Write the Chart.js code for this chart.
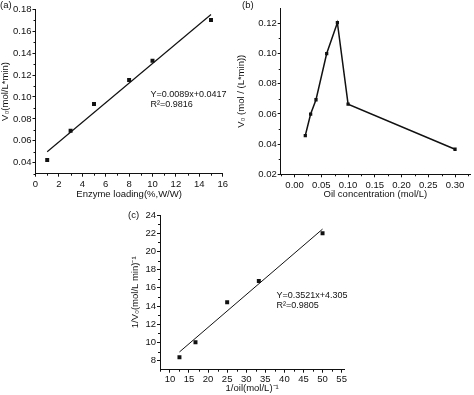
<!DOCTYPE html>
<html>
<head>
<meta charset="utf-8">
<script src="https://cdn.jsdelivr.net/npm/chart.js@4.4.1/dist/chart.umd.min.js"></script>
<style>
  html, body { margin: 0; padding: 0; background: #fff; }
  #wrap { position: relative; width: 474px; height: 395px; overflow: hidden; }
  #wrap canvas { position: absolute; left: 0; top: 0; }
</style>
</head>
<body>
<div id="wrap">
  <canvas id="chart-a" width="474" height="395"></canvas>
  <canvas id="chart-b" width="474" height="395"></canvas>
  <canvas id="chart-c" width="474" height="395"></canvas>
</div>
<script>
// (a) rate vs enzyme loading
const enzymeLoading = [1, 3, 5, 8, 10, 15];
const rateA = [0.0425, 0.0692, 0.0935, 0.1155, 0.1331, 0.1702];
const fitAX = [1, 15];
const fitAY = [0.050, 0.1752];
const ticksAX = [0, 2, 4, 6, 8, 10, 12, 14, 16];
const ticksAY = [0.04, 0.06, 0.08, 0.10, 0.12, 0.14, 0.16, 0.18];

// (b) rate vs oil concentration
const oilConc = [0.02, 0.03, 0.04, 0.06, 0.08, 0.10, 0.30];
const rateB = [0.0457, 0.0599, 0.0694, 0.100, 0.1205, 0.0665, 0.0366];
const ticksBX = [0.00, 0.05, 0.10, 0.15, 0.20, 0.25, 0.30];
const ticksBY = [0.02, 0.04, 0.06, 0.08, 0.10, 0.12];

// (c) Lineweaver-Burk style plot
const invOil = [12.5, 16.7, 25, 33.3, 50];
const invRate = [8.37, 10.02, 14.41, 16.75, 21.99];
const fitCX = [12.5, 50];
const fitCY = [8.95, 22.45];
const ticksCX = [10, 15, 20, 25, 30, 35, 40, 45, 50, 55];
const ticksCY = [8, 10, 12, 14, 16, 18, 20, 22, 24];

const FONT = '"Liberation Sans", Arial, sans-serif';
const INK = '#111';

function pts(xs, ys) {
    return xs.map((x, i) => ({ x: x, y: ys[i] }));
}

// axis with fixed box size so the plot areas land where the figure has them
function axis(opts) {
    return {
        type: 'linear',
        min: opts.min,
        max: opts.max,
        offset: false,
        afterBuildTicks: s => { s.ticks = opts.ticks.map(v => ({ value: v })); },
        afterFit: s => {
            if (opts.width !== undefined) s.width = opts.width;
            if (opts.height !== undefined) s.height = opts.height;
        },
        grid: { drawOnChartArea: false, drawTicks: true, tickLength: 3, color: INK, lineWidth: 1 },
        border: { display: true, color: INK, width: 1 },
        ticks: {
            autoSkip: false,
            maxRotation: 0,
            padding: opts.pad,
            color: INK,
            font: { family: FONT, size: 9.5 },
            callback: v => opts.dec !== undefined ? Number(v).toFixed(opts.dec) : String(v)
        },
        title: {
            display: true,
            text: opts.title,
            color: INK,
            padding: 0,
            font: { family: FONT, size: 9.5 }
        }
    };
}

// minor ticks halfway between the major ones, plus the free text of each panel
const extrasPlugin = {
    id: 'extras',
    afterDraw(chart, args, o) {
        const ctx = chart.ctx;
        ctx.save();
        ctx.strokeStyle = INK;
        ctx.lineWidth = 1;
        ['x', 'y'].forEach(id => {
            const s = chart.scales[id];
            const vals = s.ticks.map(t => t.value);
            const step = vals[1] - vals[0];
            const minors = vals.map(v => v + step / 2).concat([vals[0] - step / 2]);
            minors.forEach(m => {
                if (m <= s.min || m >= s.max) return;
                const p = Math.round(s.getPixelForValue(m)) + 0.5;
                ctx.beginPath();
                if (id === 'x') {
                    ctx.moveTo(p, s.top);
                    ctx.lineTo(p, s.top + 2);
                } else {
                    ctx.moveTo(s.right, p);
                    ctx.lineTo(s.right - 2, p);
                }
                ctx.stroke();
            });
        });
        ctx.fillStyle = INK;
        ctx.textBaseline = 'middle';
        ctx.textAlign = 'left';
        (o.texts || []).forEach(t => {
            ctx.font = t.size + 'px ' + FONT;
            ctx.fillText(t.text, t.x, t.y);
        });
        ctx.restore();
    }
};

function baseOptions(padding, scales, texts) {
    return {
        responsive: false,
        animation: false,
        layout: { padding: padding },
        plugins: {
            legend: { display: false },
            tooltip: { enabled: false },
            extras: { texts: texts }
        },
        scales: scales
    };
}

function createChartA() {
    new Chart(document.getElementById('chart-a'), {
        type: 'scatter',
        data: {
            datasets: [{
                data: pts(enzymeLoading, rateA),
                pointStyle: 'rect',
                pointRadius: 2.8,
                backgroundColor: INK,
                borderWidth: 0,
                showLine: false
            }, {
                data: pts(fitAX, fitAY),
                showLine: true,
                pointRadius: 0,
                borderColor: INK,
                borderWidth: 1.2
            }]
        },
        options: baseOptions(
            { left: 0, top: 9.3, right: 251.3, bottom: 195 },
            {
                x: axis({ min: 0, max: 16, ticks: ticksAX, height: 26.3, pad: 2, title: 'Enzyme loading(%,W/W)' }),
                y: axis({ min: 0.03, max: 0.18, ticks: ticksAY, width: 35.5, pad: 1, dec: 2, title: 'V\u2080(mol/L*min)' })
            },
            [
                { text: '(a)', x: 0, y: 5, size: 9.5 },
                { text: 'Y=0.0089x+0.0417', x: 150.5, y: 95, size: 9 },
                { text: 'R\u00b2=0.9816', x: 150.5, y: 104.5, size: 9 }
            ]
        ),
        plugins: [extrasPlugin]
    });
}

function createChartB() {
    new Chart(document.getElementById('chart-b'), {
        type: 'scatter',
        data: {
            datasets: [{
                data: pts(oilConc, rateB),
                showLine: true,
                pointStyle: 'rect',
                pointRadius: 2.3,
                backgroundColor: INK,
                borderColor: INK,
                borderWidth: 1.5,
                pointBorderWidth: 0
            }]
        },
        options: baseOptions(
            { left: 236, top: 8.3, right: 0, bottom: 194.7 },
            {
                x: axis({ min: -0.026, max: 0.328, ticks: ticksBX, height: 26, pad: 2, dec: 2, title: 'Oil concentration (mol/L)' }),
                y: axis({ min: 0.02, max: 0.13, ticks: ticksBY, width: 44.7, pad: 1, dec: 2, title: 'V\u2080 (mol / (L*min))' })
            },
            [
                { text: '(b)', x: 242, y: 5, size: 9.5 }
            ]
        ),
        plugins: [extrasPlugin]
    });
}

function createChartC() {
    new Chart(document.getElementById('chart-c'), {
        type: 'scatter',
        data: {
            datasets: [{
                data: pts(invOil, invRate),
                pointStyle: 'rect',
                pointRadius: 2.8,
                backgroundColor: INK,
                borderWidth: 0,
                showLine: false
            }, {
                data: pts(fitCX, fitCY),
                showLine: true,
                pointRadius: 0,
                borderColor: INK,
                borderWidth: 1
            }]
        },
        options: baseOptions(
            { left: 130, top: 215, right: 129.7, bottom: 1 },
            {
                x: axis({ min: 7.4, max: 55.7, ticks: ticksCX, height: 24.3, pad: 1, title: '1/oil(mol/L)\u207b\u00b9' }),
                y: axis({ min: 7, max: 24, ticks: ticksCY, width: 30, pad: 1, title: '1/V\u2080(mol/L min)\u207b\u00b9' })
            },
            [
                { text: '(c)', x: 128, y: 215, size: 9.5 },
                { text: 'Y=0.3521x+4.305', x: 276.5, y: 296, size: 9 },
                { text: 'R\u00b2=0.9805', x: 276.5, y: 305.5, size: 9 }
            ]
        ),
        plugins: [extrasPlugin]
    });
}

createChartA();
createChartB();
createChartC();
</script>
</body>
</html>
